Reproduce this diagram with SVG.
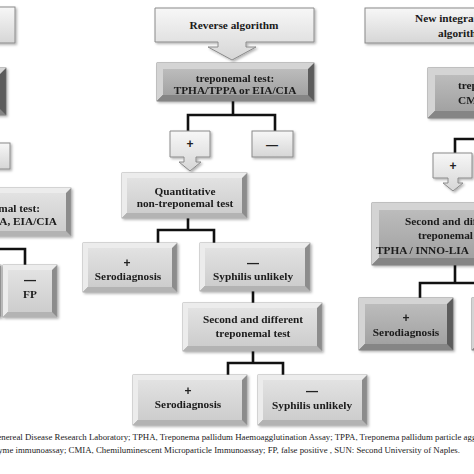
<svg xmlns="http://www.w3.org/2000/svg" width="474" height="474" viewBox="0 0 474 474">
  <defs>
    <linearGradient id="gHead" x1="0" y1="0" x2="0" y2="1">
      <stop offset="0" stop-color="#f7f7f7"/>
      <stop offset="1" stop-color="#d6d6d6"/>
    </linearGradient>
    <linearGradient id="gLightFace" x1="0" y1="0" x2="0" y2="1">
      <stop offset="0" stop-color="#e2e2e2"/>
      <stop offset="1" stop-color="#cdcdcd"/>
    </linearGradient>
    <linearGradient id="gDarkFace" x1="0" y1="0" x2="0" y2="1">
      <stop offset="0" stop-color="#bcbcbc"/>
      <stop offset="1" stop-color="#a2a2a2"/>
    </linearGradient>
    <filter id="shadow" x="-10%" y="-10%" width="130%" height="140%">
      <feDropShadow dx="1.5" dy="1.5" stdDeviation="1" flood-color="#000" flood-opacity="0.3"/>
    </filter>
  </defs>
  <style>
    .head { fill: url(#gHead); stroke: #8a8a8a; stroke-width: 1; filter: url(#shadow); }
    .lo { fill: #8c8c8c; stroke: #9a9a9a; stroke-width: 0.8; }
    .ltl { fill: #ececec; }
    .lb { fill: #b3b3b3; }
    .lf { fill: url(#gLightFace); }
    .do { fill: #5c5c5c; stroke: #6a6a6a; stroke-width: 0.8; }
    .dtl { fill: #d4d4d4; }
    .db { fill: #858585; }
    .df { fill: url(#gDarkFace); }
    .bev { filter: url(#shadow); }
    .t { font-family: "Liberation Serif", "Times New Roman", serif; font-weight: bold; font-size: 11.3px; fill: #1a1a1a; text-anchor: middle; }
    .ts { text-anchor: start; }
    .te { text-anchor: end; }
    .sign { font-family: "Liberation Sans", Arial, sans-serif; font-weight: bold; font-size: 12px; fill: #222; text-anchor: middle; }
    .wire { fill: none; stroke: #111; stroke-width: 2.6; stroke-linecap: square; }
    .note { font-family: "Liberation Serif", "Times New Roman", serif; font-size: 8.8px; fill: #222; }
  </style>

  <rect width="474" height="474" fill="#ffffff"/>

  <!-- connectors -->
  <g id="connectors">
    <path class="wire" d="M-5 249 H25 V264"/>
    <path class="wire" d="M233 101 V115 M188 130 V115 H275 V130"/>
    <path class="wire" d="M188 218 V230 M158 242 V230 H214 V242"/>
    <path class="wire" d="M253 291 V302"/>
    <path class="wire" d="M253 351 V363 M228 374 V363 H283 V374"/>
    <path class="wire" d="M455 152 V139 H480"/>
    <path class="wire" d="M455 265 V283 M420 297 V283 H480"/>
  </g>

  <!-- left column -->
  <g id="left-header"><rect class="head" x="-100" y="7" width="115" height="36"/></g>
  <g id="left-test" class="bev">
    <rect class="do" x="-100" y="68" width="106" height="47"/>
    <polygon class="dtl" points="-100,68 6,68 0,74 -94,74 -94,109 -100,115"/>
    <polygon class="db" points="-100,115 -94,109 0,109 6,115"/>
    <rect class="df" x="-94" y="74" width="94" height="35"/>
  </g>
  <g id="left-plus"><rect class="head" x="-40" y="143" width="50" height="26"/></g>
  <g id="left-second-test" class="bev">
    <rect class="lo" x="-60" y="188" width="131" height="48"/>
    <polygon class="ltl" points="-60,188 71,188 66,193 -55,193 -55,231 -60,236"/>
    <polygon class="lb" points="-60,236 -55,231 66,231 71,236"/>
    <rect class="lf" x="-55" y="193" width="121" height="38"/>
    <text class="t te" x="40" y="212">Treponemal test:</text>
    <text class="t te" x="57" y="225">TPHA/TPPA, EIA/CIA</text>
  </g>
  <g id="left-pos" class="bev">
    <rect class="lo" x="-60" y="265" width="61" height="52"/>
    <polygon class="ltl" points="-60,265 1,265 -4,270 -55,270 -55,312 -60,317"/>
    <polygon class="lb" points="-60,317 -55,312 -4,312 1,317"/>
    <rect class="lf" x="-55" y="270" width="51" height="42"/>
  </g>
  <g id="left-fp" class="bev">
    <rect class="lo" x="3" y="265" width="54" height="52"/>
    <polygon class="ltl" points="3,265 57,265 52,270 8,270 8,312 3,317"/>
    <polygon class="lb" points="3,317 8,312 52,312 57,317"/>
    <rect class="lf" x="8" y="270" width="44" height="42"/>
    <text class="sign" x="30" y="284">—</text>
    <text class="t" x="30" y="298">FP</text>
  </g>

  <!-- middle column: reverse algorithm -->
  <g id="reverse-header">
    <path class="head" d="M155 8 H314 V42 H246 V47 H256 L232 60 L208 47 H218 V42 H155 Z"/>
    <text class="t" x="234" y="29">Reverse algorithm</text>
  </g>
  <g id="reverse-trep" class="bev">
    <rect class="do" x="157" y="63" width="157" height="38"/>
    <polygon class="dtl" points="157,63 314,63 308,69 163,69 163,95 157,101"/>
    <polygon class="db" points="157,101 163,95 308,95 314,101"/>
    <rect class="df" x="163" y="69" width="145" height="26"/>
    <text class="t" x="235" y="82">treponemal test:</text>
    <text class="t" x="235" y="94">TPHA/TPPA or EIA/CIA</text>
  </g>
  <g id="reverse-plus">
    <path class="head" d="M170 131 H210 V157 H196 V162 H201 L190 171 L179 162 H184 V157 H170 Z"/>
    <text class="sign" x="190" y="148">+</text>
  </g>
  <g id="reverse-minus">
    <rect class="head" x="252" y="131" width="41" height="26"/>
    <text class="sign" x="272" y="149">—</text>
  </g>
  <g id="reverse-quant" class="bev">
    <rect class="lo" x="122" y="173" width="125" height="45"/>
    <polygon class="ltl" points="122,173 247,173 242,178 127,178 127,213 122,218"/>
    <polygon class="lb" points="122,218 127,213 242,213 247,218"/>
    <rect class="lf" x="127" y="178" width="115" height="35"/>
    <text class="t" x="185" y="195">Quantitative</text>
    <text class="t" x="185" y="207">non-treponemal test</text>
  </g>
  <g id="reverse-sero1" class="bev">
    <rect class="lo" x="83" y="243" width="94" height="49"/>
    <polygon class="ltl" points="83,243 177,243 172,248 88,248 88,287 83,292"/>
    <polygon class="lb" points="83,292 88,287 172,287 177,292"/>
    <rect class="lf" x="88" y="248" width="84" height="39"/>
    <text class="sign" x="127" y="267">+</text>
    <text class="t" x="128" y="280">Serodiagnosis</text>
  </g>
  <g id="reverse-unlikely1" class="bev">
    <rect class="lo" x="200" y="243" width="110" height="48"/>
    <polygon class="ltl" points="200,243 310,243 305,248 205,248 205,286 200,291"/>
    <polygon class="lb" points="200,291 205,286 305,286 310,291"/>
    <rect class="lf" x="205" y="248" width="100" height="38"/>
    <text class="sign" x="253" y="267">—</text>
    <text class="t" x="253" y="280">Syphilis unlikely</text>
  </g>
  <g id="reverse-second" class="bev">
    <rect class="lo" x="183" y="303" width="139" height="48"/>
    <polygon class="ltl" points="183,303 322,303 317,308 188,308 188,346 183,351"/>
    <polygon class="lb" points="183,351 188,346 317,346 322,351"/>
    <rect class="lf" x="188" y="308" width="129" height="38"/>
    <text class="t" x="253" y="323">Second and different</text>
    <text class="t" x="253" y="337">treponemal test</text>
  </g>
  <g id="reverse-sero2" class="bev">
    <rect class="lo" x="133" y="375" width="114" height="50"/>
    <polygon class="ltl" points="133,375 247,375 242,380 138,380 138,420 133,425"/>
    <polygon class="lb" points="133,425 138,420 242,420 247,425"/>
    <rect class="lf" x="138" y="380" width="104" height="40"/>
    <text class="sign" x="188" y="395">+</text>
    <text class="t" x="188" y="408">Serodiagnosis</text>
  </g>
  <g id="reverse-unlikely2" class="bev">
    <rect class="lo" x="258" y="375" width="109" height="50"/>
    <polygon class="ltl" points="258,375 367,375 362,380 263,380 263,420 258,425"/>
    <polygon class="lb" points="258,425 263,420 362,420 367,425"/>
    <rect class="lf" x="263" y="380" width="99" height="40"/>
    <text class="sign" x="312" y="395">—</text>
    <text class="t" x="312" y="409">Syphilis unlikely</text>
  </g>

  <!-- right column: new integrated algorithm -->
  <g id="new-header">
    <rect class="head" x="365" y="8" width="200" height="35"/>
    <text class="t ts" x="415" y="22">New integrated</text>
    <text class="t ts" x="438" y="37">algorithm</text>
  </g>
  <g id="new-trep" class="bev">
    <rect class="do" x="428" y="68" width="120" height="50"/>
    <polygon class="dtl" points="428,68 548,68 541,75 435,75 435,111 428,118"/>
    <polygon class="db" points="428,118 435,111 541,111 548,118"/>
    <rect class="df" x="435" y="75" width="106" height="36"/>
    <text class="t ts" x="458" y="89">treponemal test:</text>
    <text class="t ts" x="458" y="104">CMIA</text>
  </g>
  <g id="new-plus">
    <path class="head" d="M433 153 H472 V178 H458 V183 H463 L453 191 L443 183 H448 V178 H433 Z"/>
    <text class="sign" x="453" y="170">+</text>
  </g>
  <g id="new-second" class="bev">
    <rect class="do" x="372" y="203" width="180" height="62"/>
    <polygon class="dtl" points="372,203 552,203 545,210 379,210 379,258 372,265"/>
    <polygon class="db" points="372,265 379,258 545,258 552,265"/>
    <rect class="df" x="379" y="210" width="166" height="48"/>
    <text class="t ts" x="405" y="225">Second and different</text>
    <text class="t ts" x="418" y="239">treponemal test:</text>
    <text class="t ts" x="376" y="254">TPHA / INNO-LIA</text>
  </g>
  <g id="new-sero" class="bev">
    <rect class="do" x="359" y="298" width="94" height="52"/>
    <polygon class="dtl" points="359,298 453,298 447,304 365,304 365,344 359,350"/>
    <polygon class="db" points="359,350 365,344 447,344 453,350"/>
    <rect class="df" x="365" y="304" width="82" height="40"/>
    <text class="sign" x="406" y="322">+</text>
    <text class="t" x="406" y="336">Serodiagnosis</text>
  </g>
  <g id="new-other" class="bev">
    <rect class="do" x="472" y="298" width="80" height="52"/>
    <polygon class="dtl" points="472,298 552,298 546,304 478,304 478,344 472,350"/>
    <polygon class="db" points="472,350 478,344 546,344 552,350"/>
    <rect class="df" x="478" y="304" width="68" height="40"/>
  </g>

  <!-- abbreviations -->
  <g id="legend">
    <text class="note" x="-8" y="440">Venereal Disease Research Laboratory; TPHA, Treponema pallidum Haemoagglutination Assay; TPPA, Treponema pallidum particle agglutination assay;</text>
    <text class="note te" x="460" y="453">enzyme immunoassay; CMIA, Chemiluminescent Microparticle Immunoassay; FP, false positive , SUN: Second University of Naples.</text>
  </g>
</svg>
